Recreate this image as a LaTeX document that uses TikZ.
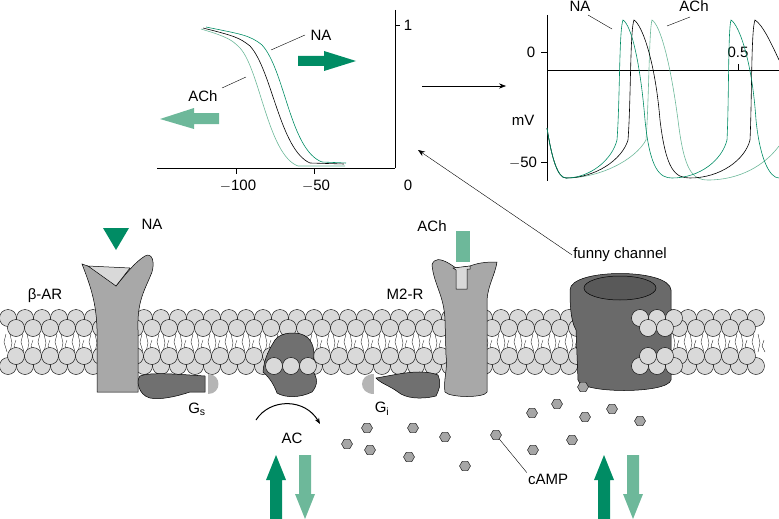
\documentclass[tikz,border=0pt]{standalone}
\usepackage{fontspec}
\setmainfont{Liberation Sans}
\usetikzlibrary{shapes.geometric,arrows.meta}
\definecolor{dg}{HTML}{008C64}
\definecolor{lg}{HTML}{6DB89A}
\definecolor{head}{HTML}{D9D9D9}
\definecolor{rec}{HTML}{A8A8A8}
\definecolor{dk}{HTML}{707070}
\definecolor{ch}{HTML}{6A6A6A}
\begin{document}
\begin{tikzpicture}[x=1pt,y=-1pt,
  lbl/.style={font=\fontsize{15}{17}\selectfont,inner sep=1pt},
  hx/.style={regular polygon,regular polygon sides=6,minimum size=11pt,inner sep=0pt,fill=gray!70,draw=black,line width=0.4pt},
  hd/.style={fill=head,draw=black,line width=0.4pt},
  prot/.style={draw=black,line width=0.5pt},
  big/.style={line width=0.5pt}]
\useasboundingbox (0,0) rectangle (779,519);
% ---- left plot
\draw[big] (157,168) -- (395,168);
\draw[big] (395,10) -- (395,168);
\draw[big] (395,25) -- (400,25);
\draw[big] (236,168) -- (236,174);
\draw[big] (314,168) -- (314,174);
\node[lbl] (l1) at (408,25) {1};
\node[lbl] (l0) at (408,185) {0};
\node[lbl] (lm100) at (238,186) {$-$100};
\node[lbl] (lm50) at (316,186) {$-$50};
\draw[dg,line width=0.6pt] (206,27) .. controls (240,34) and (250,35) .. (262,45) .. controls (285,70) and (290,150) .. (322,162) -- (346,163);
\draw[black,line width=0.6pt] (203,28) .. controls (235,36) and (240,38) .. (250,46) .. controls (272,70) and (280,150) .. (310,163) -- (344,164);
\draw[lg,line width=0.6pt] (201,29) .. controls (228,37) and (232,40) .. (240,48) .. controls (260,70) and (268,155) .. (298,166) -- (345,166);
\node[lbl] (na1) at (321,35) {NA};
\draw[line width=0.4pt] (271,50) -- (305,35);
\node[lbl] (ach1) at (203,96) {ACh};
\draw[line width=0.4pt] (222,88) -- (246,77);
\fill[dg] (298,56) -- (324,56) -- (324,51) -- (356,61) -- (324,71) -- (324,66) -- (298,66) -- cycle;
\fill[lg] (219,113) -- (194,113) -- (194,108) -- (160,119) -- (194,129) -- (194,124) -- (219,124) -- cycle;
% ---- arrows between
\coordinate (a1) at (422,86); \coordinate (a2) at (506,86);
\draw[-{Stealth[length=7pt]},line width=0.6pt] (a1) -- (a2);
% ---- right plot
\draw[big] (547,15) -- (547,181);
\draw[big] (547,70) -- (779,70);
\draw[big] (541,52) -- (547,52);
\draw[big] (541,162) -- (547,162);
\draw[big] (738,70) -- (738,64);
\node[lbl] (r0) at (531,52) {0};
\node[lbl] (rm50) at (523,163) {$-$50};
\node[lbl] (rmv) at (523,120) {mV};
\node[lbl] (r05) at (738,52) {0.5};
\draw[lg,line width=0.6pt] (547,128) .. controls (552,160) and (558,178) .. (566,178) .. controls (600,178) and (635,160) .. (646,140) .. controls (649,100) and (649,30) .. (652,20) .. controls (660,25) and (670,60) .. (678,120) .. controls (684,170) and (692,180) .. (708,180) .. controls (740,180) and (765,165) .. (779,146);
\draw[black,line width=0.6pt] (547,128) .. controls (552,160) and (558,178) .. (566,178) .. controls (595,178) and (622,160) .. (628,140) .. controls (631,100) and (630,30) .. (634,20) .. controls (642,25) and (655,60) .. (660,120) .. controls (666,170) and (675,178) .. (690,178) .. controls (720,178) and (745,160) .. (750,140) .. controls (752,100) and (751,30) .. (755,20) .. controls (763,25) and (772,45) .. (779,60);
\draw[dg,line width=0.6pt] (547,128) .. controls (552,160) and (558,178) .. (566,178) .. controls (590,178) and (612,160) .. (617,140) .. controls (620,100) and (619,30) .. (623,20) .. controls (631,25) and (640,60) .. (645,120) .. controls (650,170) and (660,178) .. (672,178) .. controls (700,178) and (722,160) .. (727,140) .. controls (729,100) and (728,30) .. (731,20) .. controls (739,25) and (752,60) .. (756,120) .. controls (760,160) and (770,178) .. (779,178);
\node[lbl] (na2) at (580,6) {NA};
\draw[line width=0.4pt] (588,15) -- (612,29);
\node[lbl] (ach2) at (694,6) {ACh};
\draw[line width=0.4pt] (667,26) -- (690,17);
% ---- membrane
\foreach \x in {8,25,...,760} {
  \draw[line width=0.3pt] (\x-2,334) -- (\x-4,342) -- (\x-1,352);
  \draw[line width=0.3pt] (\x+2,334) -- (\x+4,343) -- (\x+2,352);
  \draw[line width=0.3pt] (\x+8,340) -- (\x+6,346) -- (\x+9,352);
}
\foreach \x in {8,25,...,760} {
  \filldraw[hd] (\x,318) circle (8.5);
  \filldraw[hd] (\x,366) circle (8.5);
}
\foreach \x in {16,33,...,760} {
  \filldraw[hd] (\x,328) circle (8.5);
  \filldraw[hd] (\x,356) circle (8.5);
}
% ---- beta-AR
\node[lbl] (bar) at (45,296) {β-AR};
\node[lbl] (na3) at (152,224) {NA};
\fill[dg] (103,228) -- (129,228) -- (116,250) -- cycle;
\draw[prot,fill=rec] (82,264) .. controls (95,268) and (105,275) .. (116,286) .. controls (125,275) and (135,262) .. (145,256) .. controls (152,252) and (155,262) .. (152,272) .. controls (145,290) and (137,300) .. (138,330) -- (138,392) -- (97,392) -- (97,340) .. controls (98,305) and (90,285) .. (82,264) -- cycle;
\draw[prot,fill=head] (88,266) -- (116,286) -- (130,268) -- cycle;
% ---- Gs
\fill[rec!85] (208,374) .. controls (222,374) and (222,394) .. (208,394) -- cycle;
\draw[prot,fill=dk] (140,376) .. controls (150,372) and (175,374) .. (205,376) -- (205,392) -- (190,392) .. controls (175,397) and (160,400) .. (150,398) .. controls (138,395) and (136,380) .. (140,376) -- cycle;
\node[lbl] (gs) at (197,409) {G\textsubscript{s}};
% ---- AC
\draw[prot,fill=dk] (275,340) .. controls (280,332) and (300,330) .. (308,338) .. controls (315,345) and (315,355) .. (312,370) .. controls (318,378) and (318,385) .. (312,392) .. controls (300,398) and (285,398) .. (277,393) .. controls (274,385) and (270,378) .. (263,372) .. controls (264,358) and (270,348) .. (275,340) -- cycle;
\foreach \x in {274,291,308} \filldraw[hd] (\x,366) circle (8.5);
\coordinate (ac1) at (256,420); \coordinate (ac2) at (320,424);
\draw[-{Stealth[length=6pt]},line width=1pt] (ac1) .. controls (270,398) and (305,398) .. (ac2);
\node[lbl] (ac) at (292,438) {AC};
% ---- Gi
\fill[rec!85] (374,374) .. controls (358,374) and (358,394) .. (374,394) -- cycle;
\draw[prot,fill=dk] (376,378) .. controls (395,375) and (420,368) .. (438,375) .. controls (442,385) and (438,392) .. (436,396) .. controls (420,400) and (405,398) .. (398,392) .. controls (390,386) and (380,383) .. (376,378) -- cycle;
\node[lbl] (gi) at (382,409) {G\textsubscript{i}};
% ---- M2-R
\node[lbl] (m2r) at (405,294) {M2-R};
\node[lbl] (ach3t) at (432,226) {ACh};
\fill[lg] (456,231) rectangle (470,262);
\draw[prot,fill=rec] (432,265) .. controls (434,258) and (440,258) .. (450,264) -- (456,268) -- (470,266) .. controls (480,262) and (490,262) .. (497,262) .. controls (495,275) and (488,285) .. (487,300) -- (487,392) .. controls (485,398) and (450,398) .. (445,392) .. controls (443,380) and (448,370) .. (446,355) -- (445,320) .. controls (444,295) and (434,285) .. (432,265) -- cycle;
\draw[prot,fill=head] (453,268) -- (470,266) -- (470,269) -- (467,269) -- (467,289) -- (456,289) -- (456,270) -- cycle;
% ---- funny channel
\draw[prot,fill=ch] (570,290) .. controls (570,268) and (670,268) .. (671,290) -- (671,380) .. controls (668,394) and (580,394) .. (578,380) -- (576,330) .. controls (570,320) and (570,300) .. (570,290) -- cycle;
\draw[prot,fill=black!65] (620,288) ellipse (36 and 12);
\foreach \x in {640,657,674} {\filldraw[hd] (\x,318) circle (8.5); \filldraw[hd] (\x,366) circle (8.5);}
\foreach \x in {648,665} {\filldraw[hd] (\x,328) circle (8.5); \filldraw[hd] (\x,356) circle (8.5);}
\node[lbl] (fc) at (620,255) {funny channel};
\coordinate (fcend) at (418,150);
\draw[-{Stealth[length=7pt]},line width=0.4pt] (fc.west) -- (fcend);
% ---- cAMP
\foreach \p [count=\i] in {(367,428),(413,428),(347,444),(370,450),(409,457),(445,437),(465,466),(496,435),(532,413),(557,404),(583,387),(585,417),(612,409),(640,421),(572,440),(533,450)}
  \node[hx] (h\i) at \p {};
\node[lbl] (camp) at (548,479) {cAMP};
\draw[line width=0.4pt] (h8) -- (camp.north west);
% ---- bottom arrows
\foreach \x/\n in {276/a,604/b} {
  \fill[dg] (\x-6,519) -- (\x-6,480) -- (\x-10,480) -- (\x,455) -- (\x+10,480) -- (\x+6,480) -- (\x+6,519) -- cycle;
  \fill[lg] (\x+23,455) -- (\x+23,494) -- (\x+19,494) -- (\x+29,519) -- (\x+39,494) -- (\x+35,494) -- (\x+35,455) -- cycle;
}
\end{tikzpicture}
\end{document}
